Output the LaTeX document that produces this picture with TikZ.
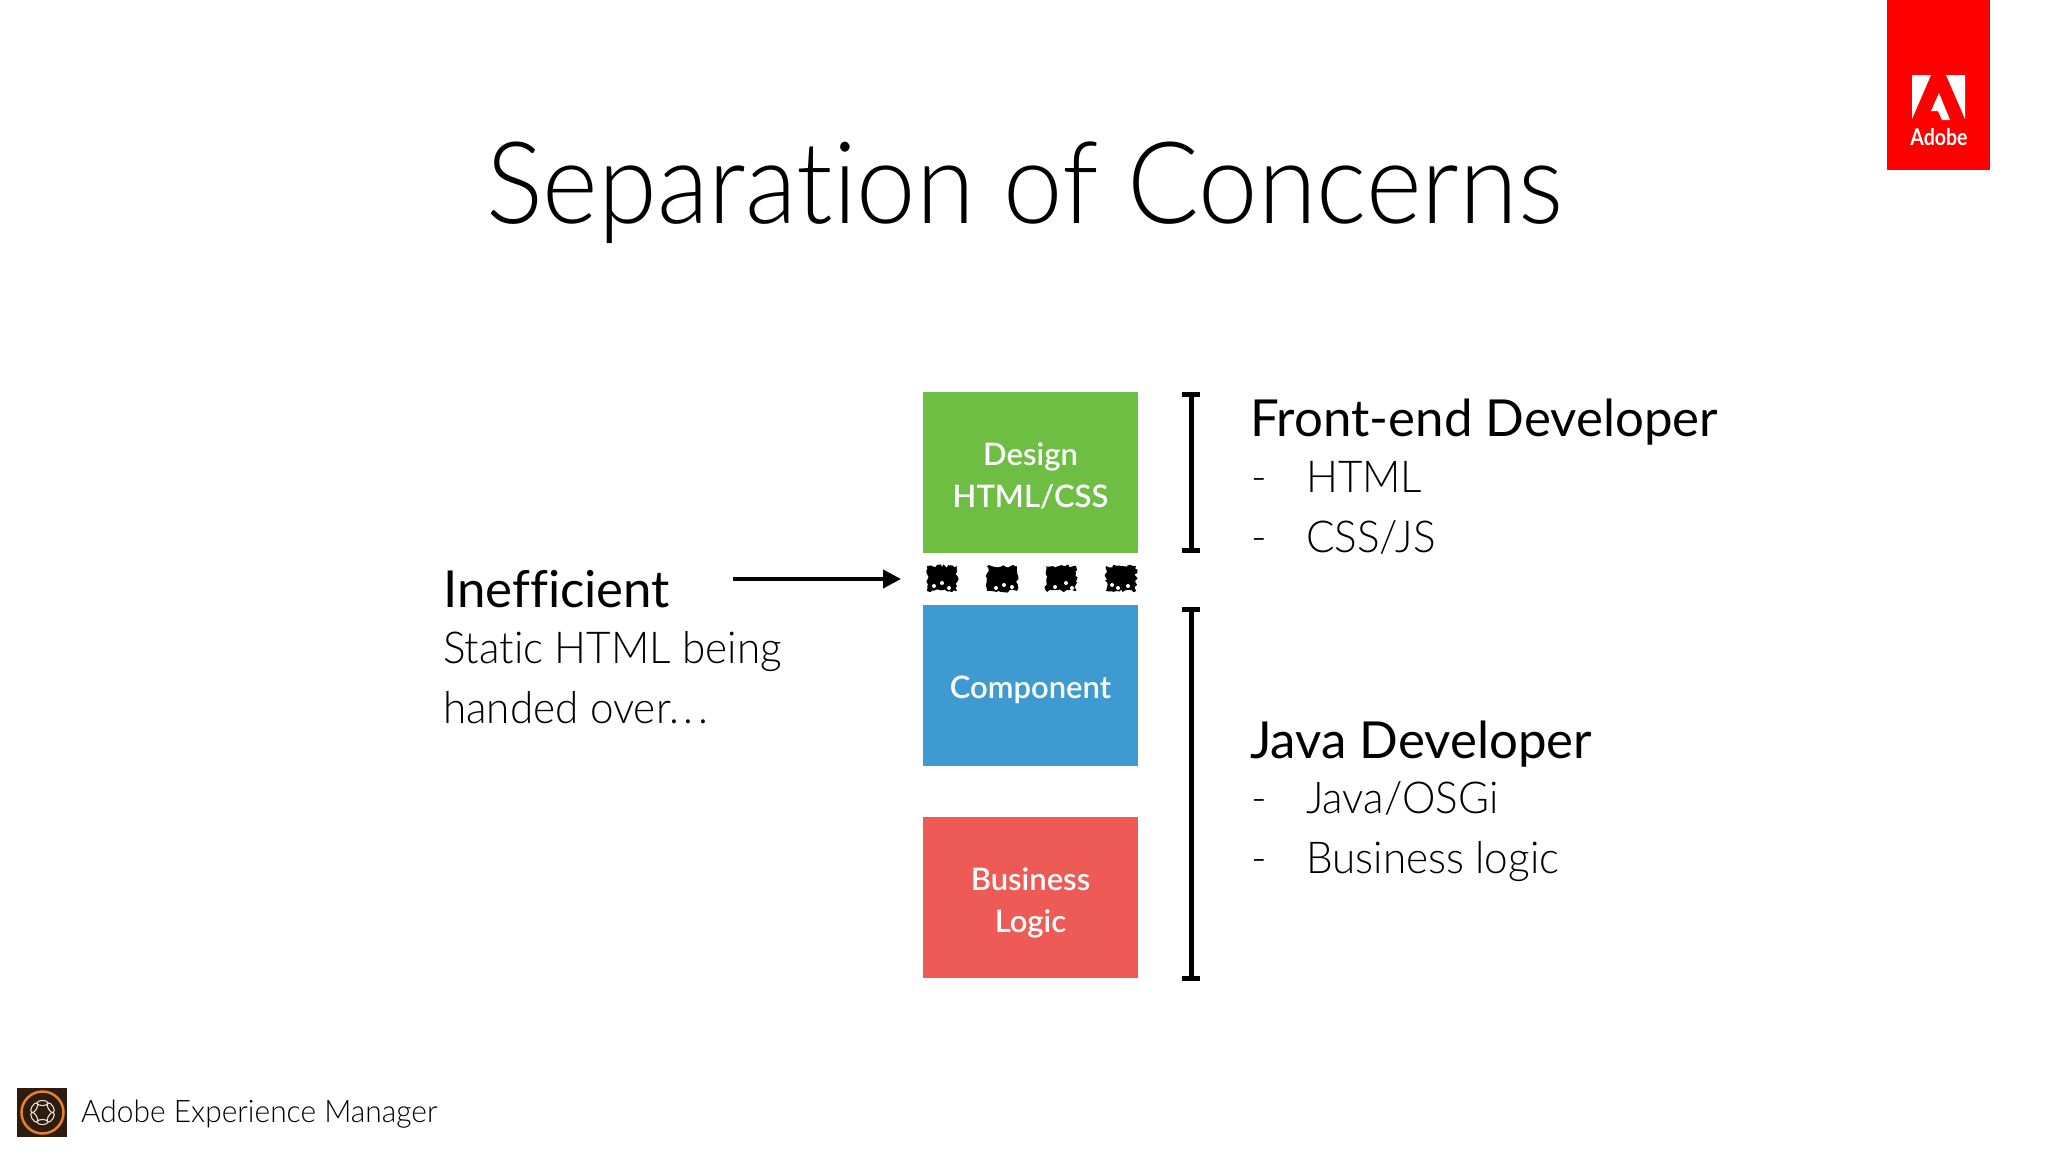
\documentclass[tikz,border=0pt]{standalone}
\usepackage{fontspec}
\setmainfont{Lato}[UprightFont=* Light,BoldFont=* Semibold,Ligatures=NoCommon]
\newfontfamily\headfont{Lato}[Ligatures=NoCommon]
\usetikzlibrary{arrows.meta,calc,positioning,decorations.pathmorphing}
\definecolor{designgreen}{HTML}{6FBE44}
\definecolor{compblue}{HTML}{3E9AD1}
\definecolor{logicred}{HTML}{EE5A55}
\definecolor{adobered}{HTML}{FF0000}
\definecolor{aembrown}{HTML}{2E1C10}
\definecolor{aemorange}{HTML}{E8812A}
\definecolor{aemcream}{HTML}{E9DFD0}
\newcommand{\liftline}[1]{\rule{0pt}{#1}}
\tikzset{
  box/.style    = {minimum width=215pt, minimum height=161pt, inner sep=0pt, outer sep=0pt,
                   text=white, align=center, font=\fontsize{31}{42}\selectfont\bfseries},
  txt/.style    = {anchor=base west, inner sep=0pt, text=black},
  head/.style   = {txt, font=\fontsize{51}{60}\selectfont\headfont},
  item/.style   = {txt, xscale=.96, font=\fontsize{44}{54}\selectfont},
  bracket/.style = {{Bar[width=18pt,line width=5pt]}-{Bar[width=18pt,line width=5pt]},
                   line width=5pt, shorten <=-2.5pt, shorten >=-2.5pt},
  vec/.style    = {-{Triangle[length=18pt,width=18pt]}, line width=4pt},
  blob/.style   = {fill=black, decorate, decoration={random steps, segment length=2.5pt, amplitude=1.6pt}},
}

\begin{document}
\begin{tikzpicture}[x=1pt,y=-1pt]
  \useasboundingbox (0,0) rectangle (2048,1152);
  \pgfmathsetseed{7}

  % title
  \node[txt, xscale=.935, font=\fontsize{114}{130}\selectfont] (title) at (486,223) {Separation of Concerns};

  % adobe tab
  \fill[adobered] (1887,0) rectangle (1990,170);
  \fill[white] (1912,75) -- (1931,75) -- (1912,119) -- cycle;
  \fill[white] (1946,75) -- (1965,75) -- (1965,119) -- cycle;
  \fill[white] (1939,93) -- (1950,120) -- (1942,120) -- (1938,111) -- (1931,111) -- cycle;
  \node[anchor=base, inner sep=0pt, text=white, font=\fontsize{23}{24}\selectfont\headfont\bfseries, xscale=.85] (adobe) at (1939,145) {Adobe};

  % stack
  \node[box, fill=designgreen, anchor=north west] (design) at (923,392) {\liftline{29pt}Design\\HTML/CSS};
  \node[box, fill=compblue, anchor=north west] (component) at (923,605) {\liftline{32pt}Component};
  \node[box, fill=logicred, anchor=north west] (logic) at (923,817) {\liftline{34pt}Business\\Logic};

  % torn bits between design and component
  \foreach \xa in {927,987,1046,1106}
    \path[blob] (\xa,566) rectangle (\xa+30,591);
  \foreach \xa/\ya in {934/586,942/583,949/588,996/588,1004/585,1012/587,1055/587,1066/583,1072/588,1118/588,1128/586,1112/585}
    \fill[white] (\xa,\ya) circle (2pt);

  % brackets
  \coordinate (fronttop) at (1191,394);
  \coordinate (frontbot) at (1191,550);
  \coordinate (javatop) at (1191,609);
  \coordinate (javabot) at (1191,978);
  \draw[bracket] (fronttop) -- (frontbot);
  \draw[bracket] (javatop) -- (javabot);

  % left note
  \node[head] (ineff) at (443,607) {Inefficient};
  \node[item] (static) at (443,663) {Static HTML being};
  \node[item] (handed) at (443,723) {handed over.\kern5pt.\kern5pt.};
  \coordinate (arrowstart) at (733,579);
  \coordinate (arrowend) at (901,579);
  \draw[vec] (arrowstart) -- (arrowend);

  % front-end
  \node[head] (front) at (1250,436) {Front-end Developer};
  \node[item] (dasha) at (1251,492) {-};
  \node[item] (html) at (1306,492) {HTML};
  \node[item] (dashb) at (1251,552) {-};
  \node[item] (css) at (1306,552) {CSS/JS};

  % java
  \node[head] (java) at (1250,758) {Java Developer};
  \node[item] (dashc) at (1251,813) {-};
  \node[item] (osgi) at (1306,813) {Java/OSGi};
  \node[item] (dashd) at (1251,873) {-};
  \node[item] (blogic) at (1306,873) {Business logic};

  % footer
  \fill[aembrown] (17,1088) rectangle (67,1137);
  \draw[aemorange, line width=2.5pt] (42.5,1112.5) circle (21);
  \foreach \ang in {0,60,...,300}
    \draw[aemcream, line width=1.1pt, rotate around={\ang:(42.5,1112.5)}] (42.5,1103) ellipse (5.5 and 2.6);
  \node[txt, xscale=.965, font=\fontsize{31}{38}\selectfont] (aem) at (81,1122) {Adobe Experience Manager};
\end{tikzpicture}
\end{document}
